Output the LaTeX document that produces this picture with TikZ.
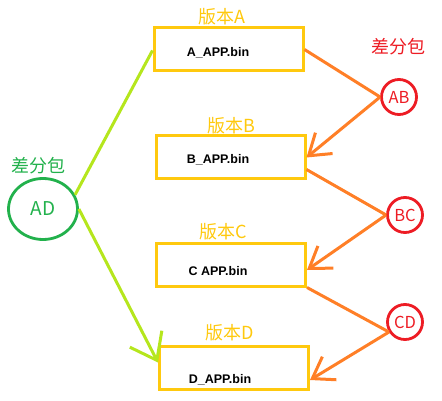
\documentclass[tikz,border=0pt]{standalone}
\usepackage{fontspec}
\setmainfont{Noto Sans CJK SC}
\newfontfamily\binfont{Liberation Sans}
\usetikzlibrary{arrows.meta,shapes.geometric}

\definecolor{boxyellow}{RGB}{255,201,14}
\definecolor{diffred}{RGB}{237,28,36}
\definecolor{linkorange}{RGB}{255,127,39}
\definecolor{adgreen}{RGB}{34,177,76}
\definecolor{limegreen}{RGB}{181,230,29}

\begin{document}
\begin{tikzpicture}[x=1pt, y=-1pt,
  version/.style={draw=boxyellow, line width=3pt, minimum width=149pt, minimum height=43pt, inner sep=0pt},
  vlabel/.style={color=boxyellow, font=\fontsize{18}{18}\selectfont},
  binname/.style={font=\binfont\bfseries\fontsize{12.5}{12.5}\selectfont},
  patch/.style={circle, draw=diffred, line width=2.8pt, minimum size=35pt, inner sep=0pt, text=diffred, font=\fontsize{16.5}{16.5}\selectfont},
  orangelink/.style={color=linkorange, line width=3pt},
  greenlink/.style={color=limegreen, line width=3pt}]
\useasboundingbox (0, 0) rectangle (442, 401);

% versions
\node[version] (boxA) at (228.5, 49.5) {};
\node[version] (boxB) at (230.5, 157.5) {};
\node[version] (boxC) at (231, 264.5) {};
\node[version] (boxD) at (234, 367.5) {};

\node[vlabel] (labelA) at (222, 17) {版本A};
\node[vlabel] (labelB) at (231, 126) {版本B};
\node[vlabel] (labelC) at (223, 232) {版本C};
\node[vlabel] (labelD) at (230, 333) {版本D};

\node[binname] (binA) at (218, 53) {A\_APP.bin};
\node[binname] (binB) at (218, 160) {B\_APP.bin};
\node[binname] (binC) at (218, 271) {C APP.bin};
\node[binname] (binD) at (220, 380) {D\_APP.bin};

% patches
\node[patch] (ab) at (399, 97) {AB};
\node[patch] (bc) at (405, 215) {BC};
\node[patch] (cd) at (405, 322) {CD};
\node[color=diffred, font=\fontsize{18}{18}\selectfont] (redtitle) at (398, 47) {差分包};

\node[ellipse, draw=adgreen, line width=2.8pt, minimum width=69pt, minimum height=61pt, inner sep=0pt, text=adgreen, font=\fontsize{19}{19}\selectfont] (ad) at (43, 209) {AD};
\node[color=adgreen, font=\fontsize{18}{18}\selectfont] (greentitle) at (39, 166) {差分包};

% orange chain
\draw[orangelink] (boxA.east) -- (ab.west);
\draw[orangelink, -{Straight Barb[length=20pt, width=27pt]}] (ab.west) -- (boxB.east);
\draw[orangelink] ([yshift=-12pt]boxB.east) -- (bc.west);
\draw[orangelink, -{Straight Barb[length=20pt, width=27pt]}] (bc.west) -- ([yshift=-5.5pt]boxC.east);
\draw[orangelink] (boxC.south east) -- (cd.212);
\draw[orangelink, -{Straight Barb[length=20pt, width=27pt]}] (cd.212) -- ([yshift=-12.5pt]boxD.east);

% green links
\draw[greenlink] (ad.24) -- ([yshift=-1pt]boxA.west);
\draw[greenlink, -{Straight Barb[length=24pt, width=36pt]}] (ad.east) -- ([yshift=5pt]boxD.west);
\end{tikzpicture}
\end{document}
